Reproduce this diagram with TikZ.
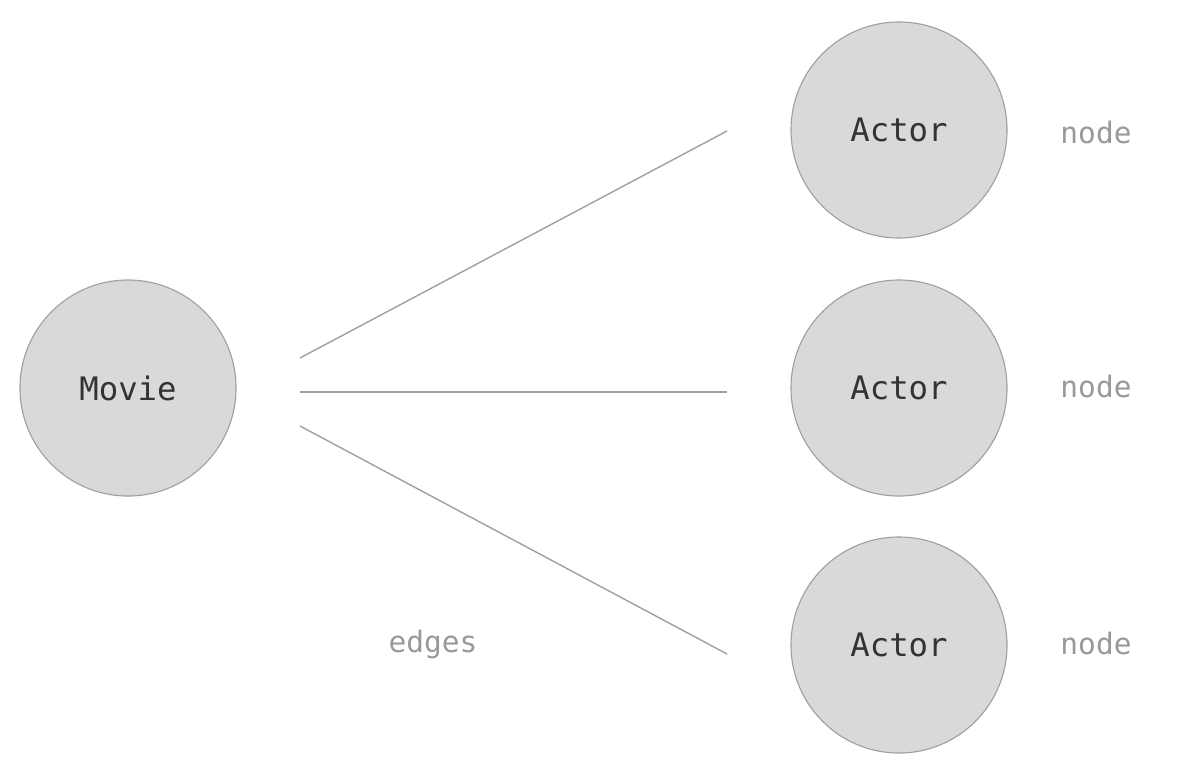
\documentclass[tikz,border=0pt]{standalone}
\usepackage{fontspec}
\setmonofont{DejaVu Sans Mono}
\definecolor{cfill}{HTML}{D9D9D9}
\definecolor{cline}{HTML}{A0A0A0}
\definecolor{ctext}{HTML}{333333}
\definecolor{clabel}{HTML}{999999}
\begin{document}
\begin{tikzpicture}[x=0.025cm,y=-0.025cm,
  ent/.style={circle,draw=cline,fill=cfill,line width=0.8pt,minimum size=5.4cm,inner sep=0pt,font=\ttfamily\fontsize{23}{26}\selectfont,text=ctext},
  lbl/.style={font=\ttfamily\fontsize{21}{24}\selectfont,text=clabel},
  edge/.style={draw=cline,line width=1pt}]
\useasboundingbox (0,0) rectangle (1200,775);
\node[ent] (movie) at (128,388) {Movie};
\node[ent] (a1) at (899,130) {Actor};
\node[ent] (a2) at (899,388) {Actor};
\node[ent] (a3) at (899,645) {Actor};
\coordinate (s1) at (300,358); \coordinate (e1) at (727,131);
\coordinate (s2) at (300,392); \coordinate (e2) at (727,392);
\coordinate (s3) at (300,426); \coordinate (e3) at (727,654);
\draw[edge] (s1) -- (e1);
\draw[edge] (s2) -- (e2);
\draw[edge] (s3) -- (e3);
\node[lbl] (n1) at (1096,132) {node};
\node[lbl] (n2) at (1096,386) {node};
\node[lbl] (n3) at (1096,643) {node};
\node[lbl] (ed) at (433,644) {edges};
\end{tikzpicture}
\end{document}
